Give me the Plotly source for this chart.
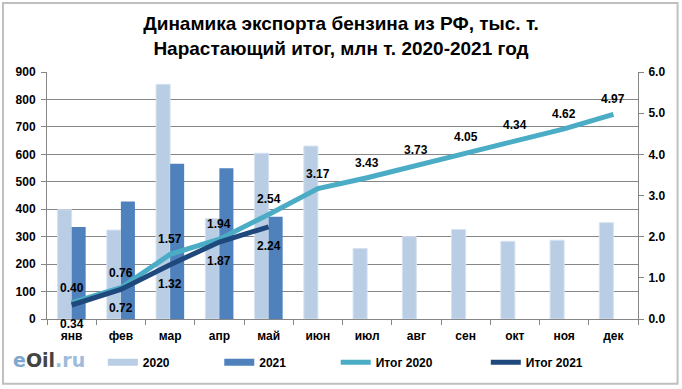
import plotly.graph_objects as go

months = ["янв", "фев", "мар", "апр", "май", "июн", "июл", "авг", "сен", "окт", "ноя", "дек"]
exp_2020 = [398, 324, 855, 366, 604, 630, 257, 300, 326, 283, 287, 351]
exp_2021 = [335, 428, 566, 549, 373]
cum_2020 = [0.40, 0.76, 1.57, 1.94, 2.54, 3.17, 3.43, 3.73, 4.05, 4.34, 4.62, 4.97]
cum_2021 = [0.34, 0.72, 1.32, 1.87, 2.24]
left_ticks = list(range(0, 901, 100))
right_ticks = [0, 1, 2, 3, 4, 5, 6]

FONT = "Liberation Sans, Arial, sans-serif"
C2020, C2021 = "#B9CDE5", "#4F81BD"
CL2020, CL2021 = "#4BACC6", "#1F497D"

fig = go.Figure()
fig.add_trace(go.Bar(x=months, y=exp_2020, name="2020", showlegend=False,
                     marker=dict(color=C2020, line=dict(color="#D6E2F0", width=1))))
fig.add_trace(go.Bar(x=months[:len(exp_2021)], y=exp_2021, name="2021", showlegend=False,
                     marker=dict(color=C2021, line=dict(width=0))))
fig.add_trace(go.Scatter(x=months, y=cum_2020, name="Итог 2020", yaxis="y2", mode="lines",
                         line=dict(color=CL2020, width=5), showlegend=False))
fig.add_trace(go.Scatter(x=months[:len(cum_2021)], y=cum_2021, name="Итог 2021", yaxis="y2", mode="lines",
                         line=dict(color=CL2021, width=5), showlegend=False))

# legend entries (symbols only)
fig.add_trace(go.Scatter(x=[None], y=[None], name="2020", mode="lines", line=dict(color=C2020, width=7),
                         legend="legend"))
fig.add_trace(go.Scatter(x=[None], y=[None], name="2021", mode="lines", line=dict(color=C2021, width=7),
                         legend="legend2"))
fig.add_trace(go.Scatter(x=[None], y=[None], name="Итог 2020", mode="lines", line=dict(color=CL2020, width=5),
                         legend="legend3"))
fig.add_trace(go.Scatter(x=[None], y=[None], name="Итог 2021", mode="lines", line=dict(color=CL2021, width=5),
                         legend="legend4"))

lab_font = dict(family=FONT, size=12, color="#000000", weight="bold")
annotations = []
for m, v in zip(months, cum_2020):
    annotations.append(dict(x=m, y=v, xref="x", yref="y2", text=f"{v:.2f}", showarrow=False,
                            yshift=15, font=lab_font))
for m, v in zip(months, cum_2021):
    annotations.append(dict(x=m, y=v, xref="x", yref="y2", text=f"{v:.2f}", showarrow=False,
                            yshift=-19, font=lab_font))
annotations.append(dict(xref="paper", yref="paper", x=-0.061, y=-0.168, xanchor="left", yanchor="middle",
                        showarrow=False,
                        text="<b><span style='color:#7FA7CF'>e</span><span style='color:#444444'>Oil</span><span style='color:#9DBBDA'>.ru</span></b>",
                        font=dict(family="DejaVu Sans, sans-serif", size=19)))

tick_font = dict(family=FONT, size=12, color="#000000", weight="bold")
leg_font = dict(family=FONT, size=12, color="#000000", weight="bold")


def leg(x):
    return dict(x=x, y=-0.175, xanchor="left", yanchor="middle", orientation="h",
                bgcolor="rgba(0,0,0,0)", font=leg_font, itemwidth=30)


fig.update_layout(
    width=682, height=389, autosize=False,
    margin=dict(l=47, r=44, t=72, b=70),
    paper_bgcolor="white", plot_bgcolor="white",
    title=dict(text="<b>Динамика экспорта бензина из РФ, тыс. т.<br>Нарастающий итог, млн т. 2020-2021 год</b>",
               x=0.5, xanchor="center", y=0.922, yanchor="middle",
               font=dict(family=FONT, size=19, color="#000000")),
    barmode="group", bargap=0.43, bargroupgap=0,
    showlegend=True,
    legend=leg(0.0945), legend2=leg(0.2915), legend3=leg(0.4885), legend4=leg(0.7425),
    xaxis=dict(type="category", tickfont=tick_font, showline=True, linecolor="#868686", linewidth=1,
               ticks="outside", tickson="boundaries", ticklen=5, tickcolor="#868686", showgrid=False,
               ticklabelstandoff=6),
    yaxis=dict(range=[0, 900], tickvals=left_ticks, tickfont=tick_font, showline=True, linecolor="#868686",
               linewidth=1, ticks="outside", ticklen=5, tickcolor="#868686", gridcolor="#868686", gridwidth=1,
               zeroline=False, ticklabelstandoff=3),
    yaxis2=dict(range=[0, 6], tickvals=right_ticks, tickformat=".1f", overlaying="y", side="right",
                tickfont=tick_font, showline=True, linecolor="#868686", linewidth=1, ticks="outside", ticklen=5,
                tickcolor="#868686", showgrid=False, zeroline=False, ticklabelstandoff=2),
    shapes=[dict(type="rect", xref="paper", yref="paper", x0=-0.0745, x1=1.067, y0=-0.262, y1=1.279,
                 line=dict(color="#BFBFBF", width=2), fillcolor="rgba(0,0,0,0)", layer="below")],
    annotations=annotations,
)

fig.write_html("out.html", config={"displayModeBar": False},
               post_script="document.body.style.margin='0';")
